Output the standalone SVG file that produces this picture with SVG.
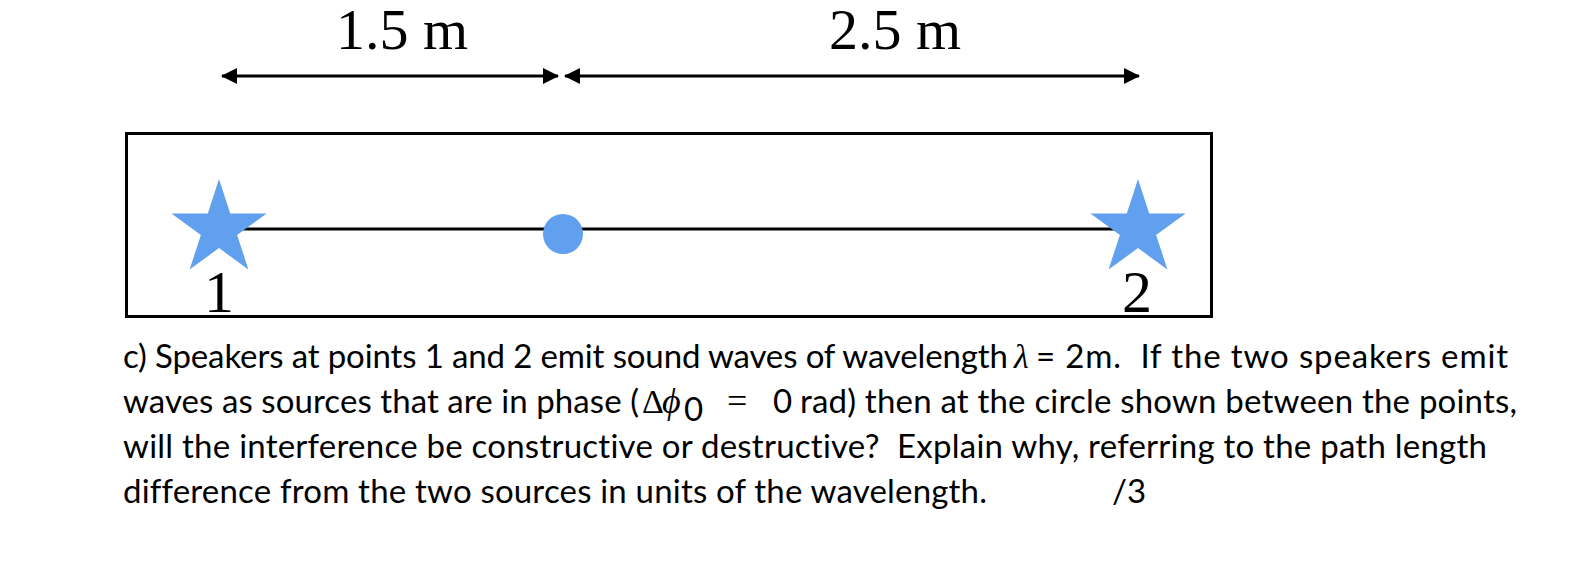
<svg xmlns="http://www.w3.org/2000/svg" width="1582" height="576" viewBox="0 0 1582 576">
<style>
.lbl{font-family:"Liberation Serif","Times New Roman",serif;fill:#000}
.txt{font-family:Lato,"Open Sans",sans-serif;font-size:33px;fill:#000;white-space:pre;font-variant-ligatures:none}
.math{font-family:"Liberation Serif","DejaVu Serif",serif;fill:#000}
.star{fill:#619FEF}
.ln{stroke:#000;stroke-width:3;fill:none}
</style>
<defs>
<marker id="ah" viewBox="0 0 16 16" refX="15" refY="8" markerWidth="16" markerHeight="16" markerUnits="userSpaceOnUse" orient="auto-start-reverse">
<path d="M0,0 L16,8 L0,16 Z" fill="#000"/>
</marker>
</defs>
<rect width="1582" height="576" fill="#fff"/>
<g id="connectors">
<line class="ln" x1="222" y1="76" x2="558" y2="76" marker-start="url(#ah)" marker-end="url(#ah)"/>
<line class="ln" x1="565" y1="76" x2="1139" y2="76" marker-start="url(#ah)" marker-end="url(#ah)"/>
<line class="ln" x1="223" y1="229" x2="1130" y2="229"/>
</g>
<g id="dim-labels">
<text class="lbl" x="402" y="49" font-size="58" text-anchor="middle">1.5 m</text>
<text class="lbl" x="895" y="49" font-size="58" text-anchor="middle">2.5 m</text>
</g>
<g id="frame">
<rect x="126.5" y="133.5" width="1085" height="183" fill="none" stroke="#000" stroke-width="3"/>
</g>
<g id="speaker1">
<polygon class="star" points="219,179 230.2,213.6 266.6,213.5 237.1,234.9 248.4,269.5 219,248.1 189.6,269.5 200.9,234.9 171.4,213.5 207.8,213.6"/>
<text class="lbl" x="219" y="312" font-size="60" text-anchor="middle">1</text>
</g>
<g id="speaker2">
<polygon class="star" points="219,179 230.2,213.6 266.6,213.5 237.1,234.9 248.4,269.5 219,248.1 189.6,269.5 200.9,234.9 171.4,213.5 207.8,213.6" transform="translate(919,0)"/>
<text class="lbl" x="1137" y="312" font-size="60" text-anchor="middle">2</text>
</g>
<g id="point">
<circle cx="563" cy="234" r="20" fill="#619FEF"/>
</g>
<g id="question">
<text class="txt" x="123" y="368" textLength="885" lengthAdjust="spacing">c) Speakers at points 1 and 2 emit sound waves of wavelength</text>
<text class="math" x="1014" y="368" font-size="34" font-style="italic">λ</text>
<text class="txt" x="1036" y="368" textLength="472" lengthAdjust="spacing">= 2m.  If the two speakers emit</text>
<text class="txt" x="123" y="413" textLength="516" lengthAdjust="spacing">waves as sources that are in phase (</text>
<text class="math" x="642" y="413" font-size="34">Δ</text>
<text class="math" x="662" y="413" font-size="36" font-style="italic">ϕ</text>
<text class="txt" x="684" y="421" font-size="22">0</text>
<text class="math" x="727" y="413" font-size="36">=</text>
<text class="txt" x="773" y="413">0</text>
<text class="txt" x="800" y="413" textLength="717" lengthAdjust="spacing">rad) then at the circle shown between the points,</text>
<text class="txt" x="123" y="458" textLength="1364" lengthAdjust="spacing">will the interference be constructive or destructive?  Explain why, referring to the path length</text>
<text class="txt" x="123" y="503" textLength="864" lengthAdjust="spacing">difference from the two sources in units of the wavelength.</text>
<text class="txt" x="1112" y="503">/3</text>
</g>
</svg>
